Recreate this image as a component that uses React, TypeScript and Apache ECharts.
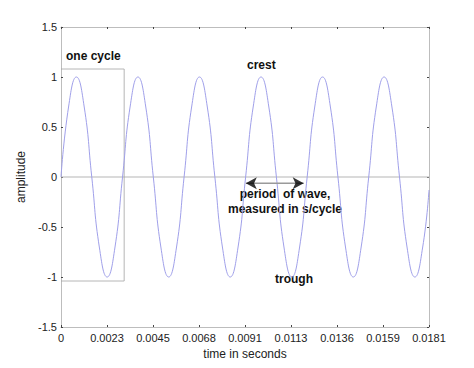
import React, { useEffect, useRef } from "react";
import * as echarts from "echarts";

const times = [
  0, 0.000379, 0.000758, 0.001136, 0.001515, 0.001894, 0.002273, 0.002652,
  0.00303, 0.003409, 0.003788, 0.004167, 0.004545, 0.004924, 0.005303, 0.005682,
  0.006061, 0.006439, 0.006818, 0.007197, 0.007576, 0.007955, 0.008333, 0.008712,
  0.009091, 0.00947, 0.009848, 0.010227, 0.010606, 0.010985, 0.011364, 0.011742,
  0.012121, 0.0125, 0.012879, 0.013258, 0.013636, 0.014015, 0.014394, 0.014773,
  0.015152, 0.01553, 0.015909, 0.016288, 0.016667, 0.017045, 0.017424, 0.017803,
  0.01812,
];
const amplitude = [
  0, 0.71, 1, 0.71, 0, -0.71, -1, -0.71,
  0, 0.71, 1, 0.71, 0, -0.71, -1, -0.71,
  0, 0.71, 1, 0.71, 0, -0.71, -1, -0.71,
  0, 0.71, 1, 0.71, 0, -0.71, -1, -0.71,
  0, 0.71, 1, 0.71, 0, -0.71, -1, -0.71,
  0, 0.71, 1, 0.71, 0, -0.71, -1, -0.71,
  -0.13,
];
const xTickLabels = ["0", "0.0023", "0.0045", "0.0068", "0.0091", "0.0113", "0.0136", "0.0159", "0.0181"];
const xMax = 0.01812;
const yMin = -1.5;
const yMax = 1.5;

// "one cycle" bracket corners (time, amplitude)
const bracketTimes = [0, 0.00311, 0.00311, 0];
const bracketAmps = [1.08, 1.08, -1.04, -1.04];
// period arrow (time range, amplitude)
const arrowTimes = [0.0091, 0.01195];
const arrowAmp = -0.063;

export default function App() {
  const ref = useRef<HTMLDivElement>(null);
  useEffect(() => {
    if (!ref.current) return;
    const chart = echarts.init(ref.current, null, { renderer: "svg" });
    const font = "'Liberation Sans', Arial, Helvetica, sans-serif";
    const axisLineColor = "#bdbdbd";
    const tickStyle = { show: true, inside: true, length: 2, lineStyle: { color: "#444" } };
    const wave = times.map((t, i) => [t, amplitude[i]]);
    const bracket = bracketTimes.map((t, i) => [t, bracketAmps[i]]);
    chart.setOption({
      animation: false,
      backgroundColor: "#fff",
      grid: { left: 61, right: 45, top: 27, bottom: 41 },
      xAxis: [
        {
          type: "value",
          position: "bottom",
          min: 0,
          max: xMax,
          interval: xMax / 8,
          name: "time in seconds",
          nameLocation: "middle",
          nameGap: 19,
          nameTextStyle: { fontFamily: font, fontSize: 12, color: "#222" },
          axisLine: { show: true, onZero: false, lineStyle: { color: axisLineColor } },
          axisTick: tickStyle,
          axisLabel: {
            fontFamily: font,
            fontSize: 11,
            color: "#222",
            margin: 5,
            formatter: (_v: number, i: number) => xTickLabels[i] ?? "",
          },
          splitLine: { show: false },
        },
        {
          type: "value",
          position: "top",
          min: 0,
          max: xMax,
          interval: xMax / 8,
          axisLine: { show: true, onZero: false, lineStyle: { color: axisLineColor } },
          axisTick: tickStyle,
          axisLabel: { show: false },
          splitLine: { show: false },
        },
      ],
      yAxis: [
        {
          type: "value",
          position: "left",
          min: yMin,
          max: yMax,
          interval: 0.5,
          name: "amplitude",
          nameLocation: "middle",
          nameGap: 17,
          nameTextStyle: { fontFamily: font, fontSize: 12, color: "#222" },
          axisLine: { show: true, onZero: false, lineStyle: { color: axisLineColor } },
          axisTick: tickStyle,
          axisLabel: { fontFamily: font, fontSize: 11, color: "#222", margin: 4 },
          splitLine: { show: false },
        },
        {
          type: "value",
          position: "right",
          min: yMin,
          max: yMax,
          interval: 0.5,
          axisLine: { show: true, onZero: false, lineStyle: { color: axisLineColor } },
          axisTick: tickStyle,
          axisLabel: { show: false },
          splitLine: { show: false },
        },
      ],
      series: [
        {
          type: "line",
          xAxisIndex: 0,
          yAxisIndex: 0,
          data: [[0, 0], [xMax, 0]],
          symbol: "none",
          silent: true,
          lineStyle: { color: "#b5b5b5", width: 1 },
          z: 1,
        },
        {
          type: "line",
          xAxisIndex: 0,
          yAxisIndex: 0,
          data: wave,
          smooth: 0.5,
          symbol: "none",
          lineStyle: { color: "#a0a0ea", width: 1 },
          z: 3,
        },
        {
          type: "line",
          xAxisIndex: 0,
          yAxisIndex: 0,
          data: bracket,
          symbol: "none",
          lineStyle: { color: "#a3a3a3", width: 0.8 },
          z: 2,
        },
        {
          type: "line",
          xAxisIndex: 0,
          yAxisIndex: 0,
          data: arrowTimes.map((t) => [t, arrowAmp]),
          symbol: "none",
          silent: true,
          lineStyle: { color: "#9a9a9a", width: 1.5 },
          z: 4,
        },
        {
          type: "scatter",
          xAxisIndex: 0,
          yAxisIndex: 0,
          data: [
            { value: [arrowTimes[0], arrowAmp], symbolRotate: 90 },
            { value: [arrowTimes[1], arrowAmp], symbolRotate: -90 },
          ],
          symbol: "arrow",
          symbolSize: [9, 11],
          silent: true,
          itemStyle: { color: "#000" },
          z: 5,
        },
      ],
      graphic: [
        {
          type: "text",
          left: 66,
          top: 50,
          style: { text: "one cycle", font: `bold 12px ${font}`, fill: "#111" },
        },
        {
          type: "text",
          left: 247,
          top: 59,
          style: { text: "crest", font: `bold 12px ${font}`, fill: "#111" },
        },
        {
          type: "text",
          left: 275,
          top: 273,
          style: { text: "trough", font: `bold 12px ${font}`, fill: "#111" },
        },
        {
          type: "text",
          x: 285,
          y: 186,
          style: {
            text: "period  of wave,\nmeasured in s/cycle",
            font: `bold 12px ${font}`,
            fill: "#111",
            align: "center",
            lineHeight: 15,
          },
        },
      ],
    });
    return () => chart.dispose();
  }, []);
  return (
    <div
      ref={ref}
      style={{ position: "fixed", left: 0, top: 0, width: 474, height: 368, background: "#fff" }}
    />
  );
}
